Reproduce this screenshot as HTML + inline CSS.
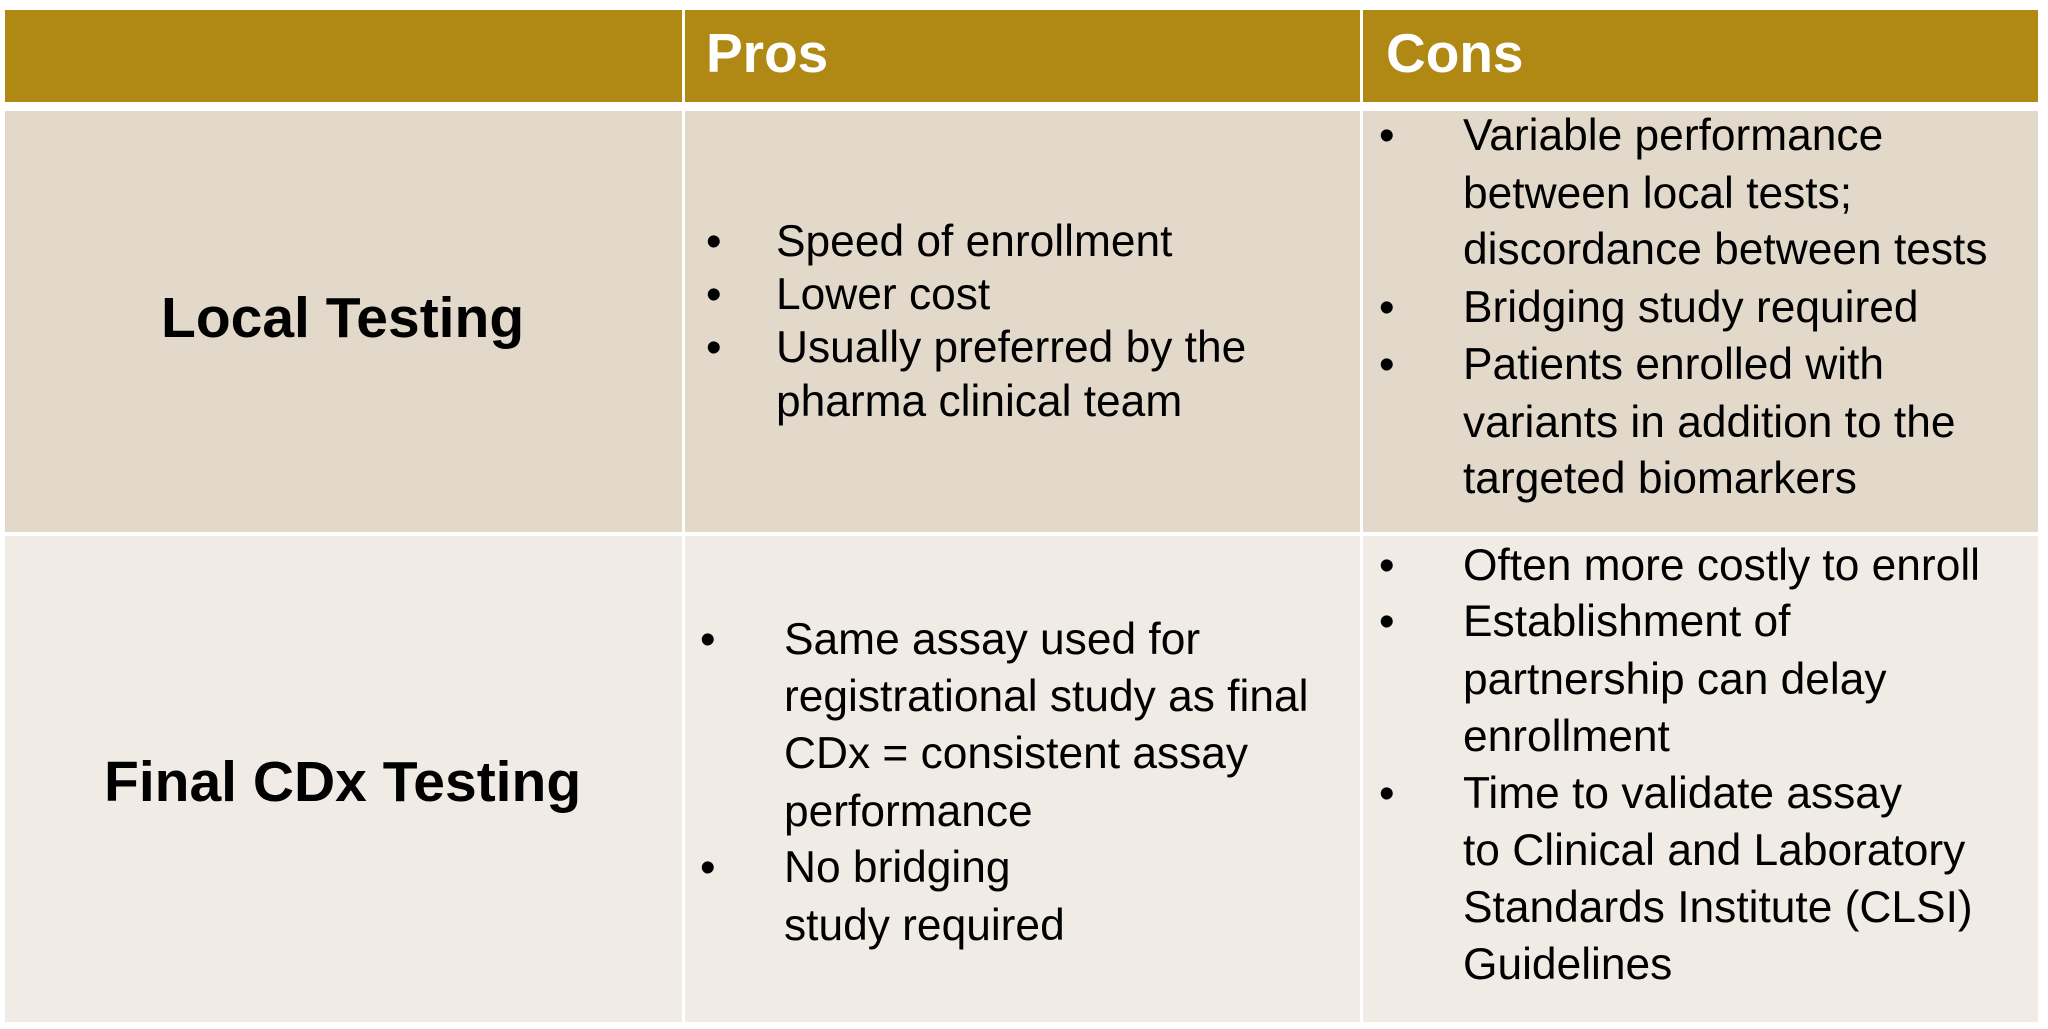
<!DOCTYPE html>
<html><head><meta charset="utf-8"><style>
body{margin:0;width:2048px;height:1029px;background:#fff;position:relative;overflow:hidden;font-family:"Liberation Sans",Arial,sans-serif;}
.b{position:absolute;}
.t{position:absolute;white-space:nowrap;font-size:44.3px;line-height:45px;color:#000;}
.h{position:absolute;white-space:nowrap;font-size:55px;line-height:54px;color:#fff;font-weight:bold;}
.L{position:absolute;white-space:nowrap;font-size:57px;line-height:55px;font-weight:bold;color:#000;}
</style></head><body>
<div class="b" style="left:5px;top:10px;width:677px;height:92px;background:#B08915"></div>
<div class="b" style="left:685px;top:10px;width:675px;height:92px;background:#B08915"></div>
<div class="b" style="left:1363px;top:10px;width:675px;height:92px;background:#B08915"></div>
<div class="b" style="left:5px;top:111px;width:677px;height:421px;background:#E2D9CB"></div>
<div class="b" style="left:685px;top:111px;width:675px;height:421px;background:#E2D9CB"></div>
<div class="b" style="left:1363px;top:111px;width:675px;height:421px;background:#E2D9CB"></div>
<div class="b" style="left:5px;top:536px;width:677px;height:486px;background:#F0EBE5"></div>
<div class="b" style="left:685px;top:536px;width:675px;height:486px;background:#F0EBE5"></div>
<div class="b" style="left:1363px;top:536px;width:675px;height:486px;background:#F0EBE5"></div>

<div class="h" style="left:706px;top:26px">Pros</div>
<div class="h" style="left:1386px;top:26px">Cons</div>

<div class="L" style="left:161px;top:291px">Local Testing</div>
<div class="L" style="left:104px;top:755px">Final CDx Testing</div>

<div class="t" style="left:706px;top:219px">•</div><div class="t" style="left:776px;top:219px">Speed of enrollment</div>
<div class="t" style="left:706px;top:272px">•</div><div class="t" style="left:776px;top:272px">Lower cost</div>
<div class="t" style="left:706px;top:325px">•</div><div class="t" style="left:776px;top:325px">Usually preferred by the</div>
<div class="t" style="left:776px;top:379px">pharma clinical team</div>

<div class="t" style="left:1379px;top:113px">•</div><div class="t" style="left:1463px;top:113px">Variable performance</div>
<div class="t" style="left:1463px;top:171px">between local tests;</div>
<div class="t" style="left:1463px;top:227px">discordance between tests</div>
<div class="t" style="left:1379px;top:285px">•</div><div class="t" style="left:1463px;top:285px">Bridging study required</div>
<div class="t" style="left:1379px;top:342px">•</div><div class="t" style="left:1463px;top:342px">Patients enrolled with</div>
<div class="t" style="left:1463px;top:400px">variants in addition to the</div>
<div class="t" style="left:1463px;top:456px">targeted biomarkers</div>

<div class="t" style="left:700px;top:617px">•</div><div class="t" style="left:784px;top:617px">Same assay used for</div>
<div class="t" style="left:784px;top:674px">registrational study as final</div>
<div class="t" style="left:784px;top:731px">CDx = consistent assay</div>
<div class="t" style="left:784px;top:789px">performance</div>
<div class="t" style="left:700px;top:845px">•</div><div class="t" style="left:784px;top:845px">No bridging</div>
<div class="t" style="left:784px;top:903px">study required</div>

<div class="t" style="left:1379px;top:543px">•</div><div class="t" style="left:1463px;top:543px">Often more costly to enroll</div>
<div class="t" style="left:1379px;top:599px">•</div><div class="t" style="left:1463px;top:599px">Establishment of</div>
<div class="t" style="left:1463px;top:657px">partnership can delay</div>
<div class="t" style="left:1463px;top:714px">enrollment</div>
<div class="t" style="left:1379px;top:771px">•</div><div class="t" style="left:1463px;top:771px">Time to validate assay</div>
<div class="t" style="left:1463px;top:828px">to Clinical and Laboratory</div>
<div class="t" style="left:1463px;top:885px">Standards Institute (CLSI)</div>
<div class="t" style="left:1463px;top:942px">Guidelines</div>
</body></html>
